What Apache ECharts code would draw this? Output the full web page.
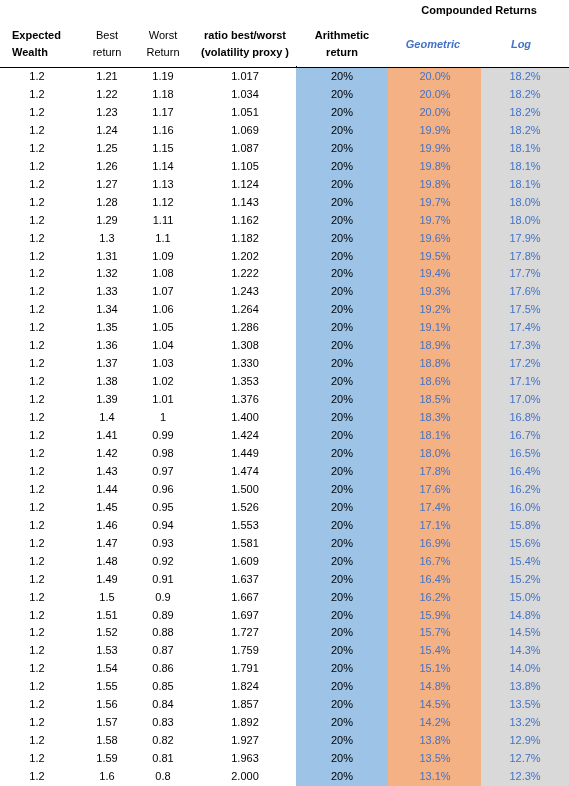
<!DOCTYPE html>
<html><head><meta charset="utf-8">
<script src="https://cdn.jsdelivr.net/npm/echarts@6/dist/echarts.min.js"></script>
<style>html,body{margin:0;padding:0;background:#fff}#c{width:569px;height:786px}</style>
</head><body><div id="c"></div>
<script>
const expected = Array(40).fill('1.2');
const best = ['1.21','1.22','1.23','1.24','1.25','1.26','1.27','1.28','1.29','1.3','1.31','1.32','1.33','1.34','1.35','1.36','1.37','1.38','1.39','1.4','1.41','1.42','1.43','1.44','1.45','1.46','1.47','1.48','1.49','1.5','1.51','1.52','1.53','1.54','1.55','1.56','1.57','1.58','1.59','1.6'];
const worst = ['1.19','1.18','1.17','1.16','1.15','1.14','1.13','1.12','1.11','1.1','1.09','1.08','1.07','1.06','1.05','1.04','1.03','1.02','1.01','1','0.99','0.98','0.97','0.96','0.95','0.94','0.93','0.92','0.91','0.9','0.89','0.88','0.87','0.86','0.85','0.84','0.83','0.82','0.81','0.8'];
const ratio = ['1.017','1.034','1.051','1.069','1.087','1.105','1.124','1.143','1.162','1.182','1.202','1.222','1.243','1.264','1.286','1.308','1.330','1.353','1.376','1.400','1.424','1.449','1.474','1.500','1.526','1.553','1.581','1.609','1.637','1.667','1.697','1.727','1.759','1.791','1.824','1.857','1.892','1.927','1.963','2.000'];
const arith = Array(40).fill('20%');
const geometric = ['20.0%','20.0%','20.0%','19.9%','19.9%','19.8%','19.8%','19.7%','19.7%','19.6%','19.5%','19.4%','19.3%','19.2%','19.1%','18.9%','18.8%','18.6%','18.5%','18.3%','18.1%','18.0%','17.8%','17.6%','17.4%','17.1%','16.9%','16.7%','16.4%','16.2%','15.9%','15.7%','15.4%','15.1%','14.8%','14.5%','14.2%','13.8%','13.5%','13.1%'];
const logRet = ['18.2%','18.2%','18.2%','18.2%','18.1%','18.1%','18.1%','18.0%','18.0%','17.9%','17.8%','17.7%','17.6%','17.5%','17.4%','17.3%','17.2%','17.1%','17.0%','16.8%','16.7%','16.5%','16.4%','16.2%','16.0%','15.8%','15.6%','15.4%','15.2%','15.0%','14.8%','14.5%','14.3%','14.0%','13.8%','13.5%','13.2%','12.9%','12.7%','12.3%'];

const columns = [expected, best, worst, ratio, arith, geometric, logRet];
const colCenters = [37, 107, 163, 245, 342, 435, 525];
const colEdges = [[296,388,'#9DC3E6'],[388,481,'#F4B183'],[481,569,'#D9D9D9']];
const textColors = ['#000','#000','#000','#000','#000','#4472C4','#4472C4'];
const rows = best.map((_, i) => String(i));
const FONT = '"Liberation Sans", Arial, sans-serif';

const cells = [];
columns.forEach((col, ci) => col.forEach((v, ri) => cells.push([ci, ri, v])));

const chart = echarts.init(document.getElementById('c'));
chart.setOption({
  animation: false,
  grid: {left: 0, top: 68, width: 569, height: 720},
  xAxis: {type: 'value', min: 0, max: 569, show: false},
  yAxis: {type: 'category', data: rows, inverse: true, show: false},
  series: [
    {
      type: 'custom', data: colEdges, silent: true,
      renderItem: (p, api) => {
        const a = api.coord([api.value(0), 0]);
        const b = api.coord([api.value(1), 0]);
        const cs = p.coordSys;
        return {type: 'rect', shape: {x: a[0], y: cs.y, width: b[0] - a[0], height: cs.height},
          style: {fill: colEdges[p.dataIndex][2]}};
      }
    },
    {
      type: 'custom', data: cells, silent: true,
      renderItem: (p, api) => {
        const ci = api.value(0);
        const pt = api.coord([colCenters[ci], api.value(1)]);
        return {type: 'text', x: pt[0], y: pt[1],
          style: {text: cells[p.dataIndex][2], align: 'center', verticalAlign: 'middle',
            fill: textColors[ci], font: '11px ' + FONT}};
      }
    }
  ],
  graphic: [
    {type: 'rect', shape: {x: 296, y: 66, width: 1, height: 720}, style: {fill: '#000'}},
    {type: 'rect', shape: {x: 0, y: 67, width: 569, height: 1}, style: {fill: '#000'}},
    {type: 'text', x: 479, y: 11, style: {text: 'Compounded Returns', align: 'center', verticalAlign: 'middle', font: 'bold 11px ' + FONT, fill: '#000'}},
    {type: 'text', x: 12, y: 36, style: {text: 'Expected', verticalAlign: 'middle', font: 'bold 11px ' + FONT, fill: '#000'}},
    {type: 'text', x: 12, y: 53, style: {text: 'Wealth', verticalAlign: 'middle', font: 'bold 11px ' + FONT, fill: '#000'}},
    {type: 'text', x: 107, y: 36, style: {text: 'Best', align: 'center', verticalAlign: 'middle', font: '11px ' + FONT, fill: '#000'}},
    {type: 'text', x: 107, y: 53, style: {text: 'return', align: 'center', verticalAlign: 'middle', font: '11px ' + FONT, fill: '#000'}},
    {type: 'text', x: 163, y: 36, style: {text: 'Worst', align: 'center', verticalAlign: 'middle', font: '11px ' + FONT, fill: '#000'}},
    {type: 'text', x: 163, y: 53, style: {text: 'Return', align: 'center', verticalAlign: 'middle', font: '11px ' + FONT, fill: '#000'}},
    {type: 'text', x: 245, y: 36, style: {text: 'ratio best/worst', align: 'center', verticalAlign: 'middle', font: 'bold 11px ' + FONT, fill: '#000'}},
    {type: 'text', x: 245, y: 53, style: {text: '(volatility proxy )', align: 'center', verticalAlign: 'middle', font: 'bold 11px ' + FONT, fill: '#000'}},
    {type: 'text', x: 342, y: 36, style: {text: 'Arithmetic', align: 'center', verticalAlign: 'middle', font: 'bold 11px ' + FONT, fill: '#000'}},
    {type: 'text', x: 342, y: 53, style: {text: 'return', align: 'center', verticalAlign: 'middle', font: 'bold 11px ' + FONT, fill: '#000'}},
    {type: 'text', x: 433, y: 45, style: {text: 'Geometric', align: 'center', verticalAlign: 'middle', font: 'italic bold 11px ' + FONT, fill: '#4472C4'}},
    {type: 'text', x: 521, y: 45, style: {text: 'Log', align: 'center', verticalAlign: 'middle', font: 'italic bold 11px ' + FONT, fill: '#4472C4'}}
  ]
});
</script></body></html>
